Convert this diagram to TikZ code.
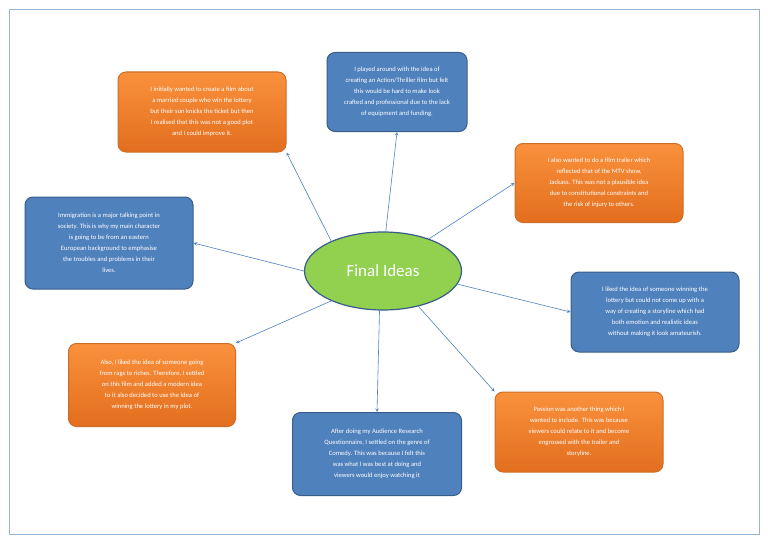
\documentclass[tikz,border=0pt]{standalone}
\usepackage{fontspec}
\setmainfont{Carlito}
\usetikzlibrary{shapes.geometric}
\definecolor{frame}{RGB}{150,180,215}
\definecolor{otop}{RGB}{250,145,60}
\definecolor{obot}{RGB}{226,110,30}
\definecolor{oline}{RGB}{205,110,40}
\definecolor{bfill}{RGB}{79,129,189}
\definecolor{bline}{RGB}{56,93,138}
\definecolor{gfill}{RGB}{146,208,80}
\begin{document}
\begin{tikzpicture}[x=1pt,y=-1pt,
  box/.style={rounded corners=8pt,line width=1pt,text=white,align=center,
     font=\fontsize{6.6}{11}\selectfont,inner sep=3pt},
  ob/.style={box,top color=otop,bottom color=obot,draw=oline},
  bb/.style={box,fill=bfill,draw=bline},
  con/.style={draw=bfill,line width=0.6pt,-stealth}]
\useasboundingbox (0,0) rectangle (768,543);
\draw[frame,line width=0.8pt] (9,9) rectangle (759,534);
\node[ellipse,draw=bline,line width=1.2pt,fill=gfill,
  minimum width=157pt,minimum height=78pt,text=white,font=\fontsize{17}{20}\selectfont] (c) at (383,271) {Final Ideas};
\node[ob,minimum width=168pt,minimum height=80pt] (a) at (202,112) {I initially wanted to create a film about\\a married couple who win the lottery\\but their son knicks the ticket but then\\I realised that this was not a good plot\\and I could improve it.};
\node[bb,minimum width=140pt,minimum height=79pt] (b) at (397,92) {I played around with the idea of\\creating an Action/Thriller film but felt\\this would be hard to make look\\crafted and professional due to the lack\\of equipment and funding.};
\node[ob,minimum width=168pt,minimum height=79pt] (cc) at (599,183) {I also wanted to do a film trailer which\\reflected that of the MTV show,\\Jackass. This was not a plausible idea\\due to constitutional constraints and\\the risk of injury to others.};
\node[bb,minimum width=168pt,minimum height=92pt] (d) at (109,243) {Immigration is a major talking point in\\society. This is why my main character\\is going to be from an eastern\\European background to emphasise\\the troubles and problems in their\\lives.};
\node[bb,minimum width=168pt,minimum height=80pt] (e) at (655,312) {I liked the idea of someone winning the\\lottery but could not come up with a\\way of creating a storyline which had\\both emotion and realistic ideas\\without making it look amateurish.};
\node[ob,minimum width=167pt,minimum height=83pt] (f) at (152,385) {Also, I liked the idea of someone going\\from rags to riches. Therefore, I settled\\on this film and added a modern idea\\to it also decided to use the idea of\\winning the lottery in my plot.};
\node[bb,minimum width=169pt,minimum height=83pt] (g) at (377,454) {After doing my Audience Research\\Questionnaire, I settled on the genre of\\Comedy. This was because I felt this\\was what I was best at doing and\\viewers would enjoy watching it};
\node[ob,minimum width=168pt,minimum height=80pt] (h) at (579,432) {Passion was another thing which I\\wanted to include. This was because\\viewers could relate to it and become\\engrossed with the trailer and\\storyline.};
\draw[con] (c.150) -- (a.south east);
\draw[con] (c.86) -- (b.south);
\draw[con] (c.35) -- (cc.west);
\draw[con] (c.west) -- (d.east);
\draw[con] (c.-10) -- (e.west);
\draw[con] (c.-150) -- (f.north east);
\draw[con] (c.-95) -- (g.north);
\draw[con] (c.-45) -- (h.north west);
\end{tikzpicture}
\end{document}
